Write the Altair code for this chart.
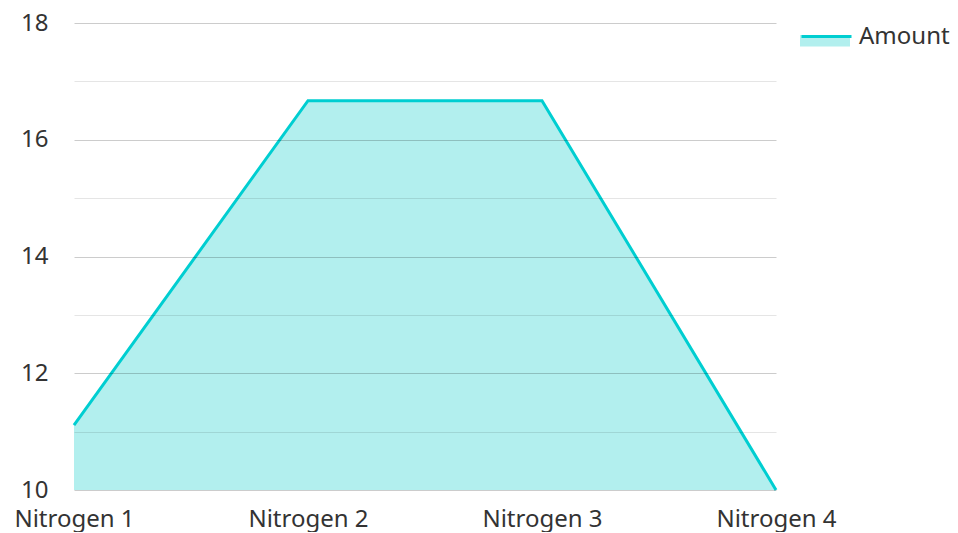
import altair as alt
import pandas as pd

categories = ["Nitrogen 1", "Nitrogen 2", "Nitrogen 3", "Nitrogen 4"]
amounts = [11.11, 16.67, 16.67, 10.0]
series_name = "Amount"
y_ticks = [10, 11, 12, 13, 14, 15, 16, 17, 18]
y_min = 10

df = pd.DataFrame({"category": categories, "value": amounts, "series": [series_name] * len(categories)})

FONT = "Noto Sans"
LINE = "#00CED1"
FILL = "#B2EFEE"
FS = 24

x_enc = alt.X("category:N", sort=categories, title=None,
              scale=alt.Scale(type="point", padding=0),
              axis=alt.Axis(labelAngle=0, domain=False, ticks=False, grid=False,
                            labelFontSize=FS, labelColor="#333333", labelFont=FONT,
                            labelPadding=17))
y_enc = alt.Y("value:Q", title=None,
              scale=alt.Scale(domain=[10, 18], nice=False, zero=False),
              axis=alt.Axis(values=y_ticks, domain=False, ticks=False,
                            labelExpr="datum.value % 2 === 0 ? datum.label : ''",
                            labelFontSize=FS, labelColor="#333333", labelFont=FONT,
                            labelPadding=26, zindex=1,
                            gridColor="#000000",
                            gridOpacity={"condition": {"test": "datum.value % 2 === 0", "value": 0.2}, "value": 0.1},
                            gridWidth=1))

area = alt.Chart(df).mark_area(opacity=1).encode(
    x=x_enc, y=y_enc, y2=alt.datum(y_min),
    fill=alt.Fill("series:N", scale=alt.Scale(range=[FILL]),
                  legend=alt.Legend(title=None, orient="none", legendX=726, legendY=-13,
                                    symbolType="M-1,0H1V0.46H-1Z", symbolSize=2500,
                                    symbolStrokeWidth=0, symbolOpacity=1, padding=0,
                                    labelOpacity=0, labelFontSize=FS, labelOffset=6,
                                    labelFont=FONT)),
)

line = alt.Chart(df).mark_line(strokeWidth=3).encode(
    x=x_enc, y=y_enc,
    stroke=alt.Stroke("series:N", scale=alt.Scale(range=[LINE]),
                      legend=alt.Legend(title=None, orient="none", legendX=726, legendY=-13,
                                        symbolType="M-1,0H1", symbolSize=2500,
                                        symbolStrokeWidth=3, padding=0,
                                        labelFontSize=FS, labelOffset=6, labelColor="#333333",
                                        labelFont=FONT)),
)

chart = alt.layer(area, line).resolve_scale(fill="independent", stroke="independent").resolve_legend(
    fill="independent", stroke="independent"
).properties(
    width=702, height=467,
    autosize=alt.AutoSizeParams(type="none"),
    padding={"left": 66, "top": 15, "right": 174, "bottom": 42},
).configure_view(stroke=None)

chart.save("out.html", embed_options={"renderer": "svg", "actions": False})
